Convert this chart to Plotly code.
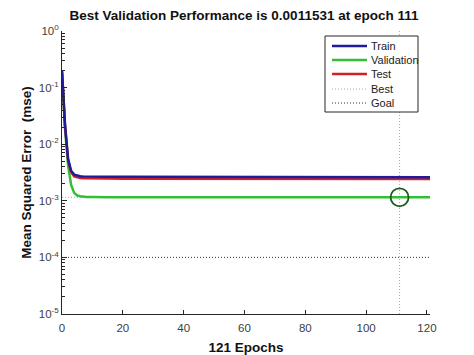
import plotly.graph_objects as go

epochs = [0, 1, 2, 3, 4, 5, 6, 7, 8, 10, 12, 15, 20, 25, 30, 40, 50, 60, 70, 80, 90, 100, 111, 121]
train = [0.20, 0.022, 0.0055, 0.0034, 0.0029, 0.00277, 0.00272, 0.0027, 0.00269, 0.00268, 0.00267,
         0.00266, 0.00265, 0.00265, 0.00264, 0.00264, 0.00263, 0.00263, 0.00262, 0.00262, 0.00262,
         0.00261, 0.00261, 0.00261]
validation = [0.18, 0.018, 0.0042, 0.0019, 0.00138, 0.00124, 0.0012, 0.00118, 0.00117, 0.00117,
              0.00116, 0.00116, 0.00116, 0.00116, 0.00116, 0.00116, 0.00116, 0.00116, 0.00116,
              0.00116, 0.00115, 0.00115, 0.0011531, 0.00116]
test = [0.19, 0.021, 0.0052, 0.0032, 0.0027, 0.00257, 0.00252, 0.0025, 0.00249, 0.00248, 0.00247,
        0.00247, 0.00246, 0.00246, 0.00246, 0.00245, 0.00245, 0.00245, 0.00244, 0.00244, 0.00244,
        0.00244, 0.00243, 0.00243]
best_epoch = 111
best_value = 0.0011531
goal = 1e-4
x_range = [0, 121]
y_ticks = [1e0, 1e-1, 1e-2, 1e-3, 1e-4, 1e-5]
y_ticktext = ["10<sup>0</sup>", "10<sup>-1</sup>", "10<sup>-2</sup>", "10<sup>-3</sup>",
              "10<sup>-4</sup>", "10<sup>-5</sup>"]
x_ticks = [0, 20, 40, 60, 80, 100, 120]
legend_names = ["Train", "Validation", "Test", "Best", "Goal"]

ink = "#262626"
c_train, c_val, c_test = "#1c1c9c", "#33bf33", "#d42020"
c_best, c_goal = "#a8a8a8", "#333333"
dotted = "1px,2px"

# page body has an 8px default margin; compensate so the page matches 474x355
OFF = 8
PW, PH = 474, 355
W, H = PW - OFF, PH - OFF
# plot area in page pixels: x 62..430, y 31..314
P_L, P_R, P_T, P_B = 62, 430, 31, 314
L, R, T, B = P_L - OFF, PW - P_R, P_T - OFF, PH - P_B
pw, ph = P_R - P_L, P_B - P_T

def px2paper(x, y):
    return (x - P_L) / pw, (P_B - y) / ph

fig = go.Figure()

# Best lines (under curves)
fig.add_trace(go.Scatter(x=x_range, y=[best_value, best_value], mode="lines",
                         line=dict(color=c_best, width=1, dash=dotted),
                         showlegend=False, hoverinfo="skip"))
fig.add_trace(go.Scatter(x=[best_epoch, best_epoch], y=[1e-5, 1e0], mode="lines",
                         line=dict(color=c_best, width=1, dash=dotted),
                         showlegend=False, hoverinfo="skip"))
# Goal
fig.add_trace(go.Scatter(x=x_range, y=[goal, goal], mode="lines", name="Goal",
                         line=dict(color=c_goal, width=1, dash=dotted), showlegend=False))

fig.add_trace(go.Scatter(x=epochs, y=validation, mode="lines", name="Validation",
                         line=dict(color=c_val, width=2.5), showlegend=False))
fig.add_trace(go.Scatter(x=epochs, y=test, mode="lines", name="Test",
                         line=dict(color=c_test, width=2.5), showlegend=False))
fig.add_trace(go.Scatter(x=epochs, y=train, mode="lines", name="Train",
                         line=dict(color=c_train, width=2.5), showlegend=False))

# Best point circle
fig.add_trace(go.Scatter(x=[best_epoch], y=[best_value], mode="markers", showlegend=False,
                         marker=dict(symbol="circle-open", size=18,
                                     color="#1e5a1e", line=dict(width=1.8, color="#1e5a1e"))))

# Manual compact legend (MATLAB style)
shapes = []
annotations = []
x0, y0 = px2paper(325, 36)
x1, y1 = px2paper(418, 112)
shapes.append(dict(type="rect", xref="paper", yref="paper", x0=x0, y0=y1, x1=x1, y1=y0,
                   fillcolor="white", line=dict(color=ink, width=1), layer="above"))
legend_styles = [
    dict(color=c_train, width=2.5),
    dict(color=c_val, width=2.5),
    dict(color=c_test, width=2.5),
    dict(color=c_best, width=1, dash=dotted),
    dict(color=c_goal, width=1, dash=dotted),
]
row_y = [46, 60, 74, 89, 103]
for name, style, ry in zip(legend_names, legend_styles, row_y):
    lx0, ly = px2paper(332, ry)
    lx1, _ = px2paper(367, ry)
    tx, _ = px2paper(369, ry)
    shapes.append(dict(type="line", xref="paper", yref="paper", x0=lx0, x1=lx1, y0=ly, y1=ly,
                       line=style, layer="above"))
    annotations.append(dict(text=name, xref="paper", yref="paper", x=tx, y=ly,
                            xanchor="left", yanchor="middle", showarrow=False,
                            font=dict(size=11, color="#1a1a1a")))

fig.update_layout(
    width=W, height=H,
    margin=dict(l=L, r=R, t=T, b=B),
    paper_bgcolor="white", plot_bgcolor="white",
    font=dict(family="Liberation Sans, Arial, sans-serif", color=ink, size=11),
    title=dict(text="<b>Best Validation Performance is 0.0011531 at epoch 111</b>",
               x=(244 - OFF) / W, xanchor="center", y=1 - (15 - OFF) / H, yanchor="middle",
               font=dict(size=13.5, color="#111111")),
    shapes=shapes, annotations=annotations,
    showlegend=False,
)
fig.update_xaxes(range=x_range, tickvals=x_ticks, ticks="inside", ticklen=4,
                 showline=True, linecolor=ink, linewidth=1, tickcolor=ink,
                 showgrid=False, zeroline=False, automargin=False,
                 tickfont=dict(size=11.5, color="#404040"), ticklabelstandoff=3,
                 title=dict(text="<b>121 Epochs</b>", font=dict(size=13.5, color="#111111"),
                            standoff=9))
fig.update_yaxes(type="log", range=[-5, 0], tickvals=y_ticks, ticktext=y_ticktext,
                 ticks="inside", ticklen=5, showline=True, linecolor=ink, linewidth=1,
                 tickcolor=ink, showgrid=False, zeroline=False, automargin=False,
                 tickfont=dict(size=11.5, color="#404040"),
                 minor=dict(ticks="inside", ticklen=3, tickcolor=ink, dtick="D1", showgrid=False),
                 title=dict(text="<b>Mean Squared Error\u00a0 (mse)</b>",
                            font=dict(size=13.5, color="#111111"), standoff=4))

fig.write_html("out.html")
